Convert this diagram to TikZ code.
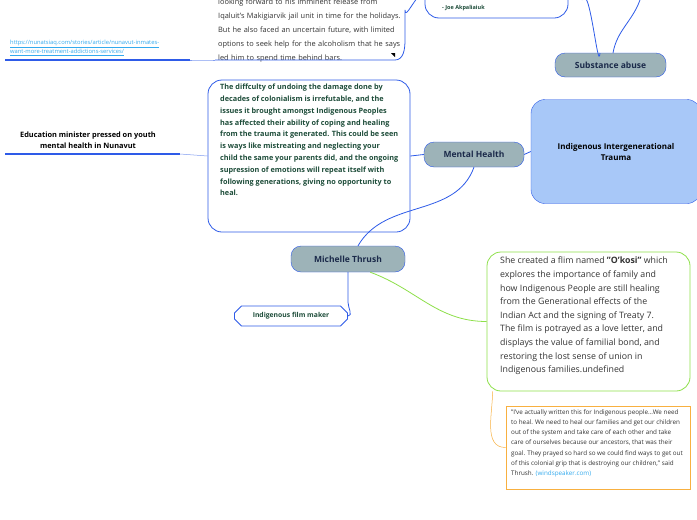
\documentclass[tikz,border=0pt]{standalone}
\usepackage{fontspec}
\usetikzlibrary{shapes.misc}
\setmainfont{Open Sans}
\definecolor{lb}{HTML}{2E5BE8}
\definecolor{gn}{HTML}{1E4D3A}
\definecolor{nodefill}{HTML}{9DB3B8}
\definecolor{navy}{HTML}{1B2A4A}
\definecolor{lg}{HTML}{8EE04A}
\definecolor{og}{HTML}{F8B040}
\definecolor{link}{HTML}{33AAEE}
\definecolor{tfill}{HTML}{A8C8F8}
\begin{document}
\begin{tikzpicture}[x=1pt,y=-1pt,
  topic/.style={draw=lb,fill=nodefill,rounded corners=10pt,font=\bfseries\fontsize{8.5}{11}\selectfont,text=navy,inner sep=0},
  con/.style={lb,line width=0.8pt},
  txt/.style={font=\fontsize{7.4}{14}\selectfont,text=black!80,align=left,anchor=north west,inner sep=0}]
\useasboundingbox (0,0) rectangle (697,520);
\fill[white] (0,0) rectangle (697,520);
% top text
\begin{scope}
\clip (0,0) rectangle (697,520);
\node[txt,text width=185] (toptxt) at (218,-1) {looking forward to his imminent release from Iqaluit's Makigiarvik jail unit in time for the holidays. But he also faced an uncertain future, with limited options to seek help for the alcoholism that he says led him to spend time behind bars.};
\end{scope}
\fill (391,53) -- (395,53) -- (395,57) -- cycle;
\node[anchor=west,font=\fontsize{5.8}{9}\selectfont,text=link,align=left,inner sep=0] (url) at (10,48) {\underline{https://nunatsiaq.com/stories/article/nunavut-inmates-}\\\underline{want-more-treatment-addictions-services/}};
\coordinate (u1) at (5,60); \coordinate (u2) at (190,60);
\draw[lb,line width=1.3pt] (u1) -- (u2);
\draw[lb,line width=0.8pt] (215,60) -- (395,60) to[out=0,in=-90] (405,40) -- (405,10) to[out=-90,in=210] (425,-10);
\draw[lb!60,line width=0.5pt] (u2) to[out=0,in=180] (215,60);
% Joe box
\draw[lb,line width=0.8pt,rounded corners=14pt] (425,-30) rectangle (568,18);
\node[font=\bfseries\fontsize{5.5}{6}\selectfont,text=gn,anchor=west,inner sep=0] (joe) at (442,8) {- Joe Akpaliaiuk};
% substance abuse
\node[topic,minimum width=111,minimum height=24] (sub) at (610.5,65) {Substance abuse};
\draw[con] (600,53) to[out=-95,in=70] (582,0);
\draw[con] (613,53) to[out=80,in=-110] (640,0);
% trauma
\node[draw=lb,fill=tfill,rounded corners=14pt,minimum width=170,minimum height=104,font=\bfseries\fontsize{8}{11}\selectfont,align=center,text=black,inner sep=0] (trauma) at (616,151.5) {Indigenous Intergenerational\\Trauma};
% mental health
\node[topic,minimum width=100,minimum height=25] (mh) at (474,154.5) {Mental Health};
\draw[con] (mh.east) -- (trauma.west);
% mental text box
\node[draw=lb,line width=0.8pt,rounded corners=14pt,minimum width=202,minimum height=152,inner sep=0] (mbox) at (309,156) {};
\node[txt,text=gn,font=\bfseries\fontsize{7.3}{11.8}\selectfont,text width=178,align=flush left] (mtxt) at (220,84) {The diffculty of undoing the damage done by decades of colonialism is irrefutable, and the issues it brought amongst Indigenous Peoples has affected their ability of coping and healing from the trauma it generated. This could be seen is ways like mistreating and neglecting your child the same your parents did, and the ongoing supression of emotions will repeat itself with following generations, giving no opportunity to heal.};
\draw[con] (mbox.east) -- (mh.west);
% education
\node[font=\bfseries\fontsize{7.4}{11}\selectfont,align=center,text=black] (edu) at (88,140) {Education minister pressed on youth\\mental health in Nunavut};
\coordinate (e1) at (5,154); \coordinate (e2) at (180,154);
\draw[lb,line width=1.3pt] (e1) -- (e2);
\draw[lb!60,line width=0.5pt] (e2) -- (mbox.west);
% michelle
\node[topic,minimum width=114,minimum height=26] (mt) at (348,259) {Michelle Thrush};
\draw[con] (mt.north) ++(10,0) to[out=60,in=-110] (mh.south);
% film maker
\node[draw=lb,line width=0.8pt,chamfered rectangle,chamfered rectangle xsep=5pt,minimum width=113,minimum height=20,font=\bfseries\fontsize{6.8}{8}\selectfont,text=gn,inner sep=0] (fm) at (291,316) {Indigenous film maker};
\draw[con] (mt.south) -- ++(0,30) to[out=-90,in=0] (fm.east);
% green box
\node[draw=lg,line width=0.8pt,rounded corners=14pt,minimum width=203,minimum height=139,inner sep=0] (gbox) at (588.5,321.5) {};
\node[txt,font=\fontsize{8.8}{13.6}\selectfont,text width=168,align=flush left] (gtxt) at (500,257) {She created a flim named \textbf{"O'kosi"} which explores the importance of family and how Indigenous People are still healing from the Generational effects of the Indian Act and the signing of Treaty 7. The film is potrayed as a love letter, and displays the value of familial bond, and restoring the lost sense of union in Indigenous families.undefined};
\draw[lg,line width=0.8pt] (mt.south east) ++(-35,0) to[out=-20,in=180] (gbox.west);
% orange box
\node[draw=og,line width=0.8pt,minimum width=184,minimum height=83,inner sep=0] (obox) at (598,447.5) {};
\node[txt,font=\fontsize{6.3}{10.3}\selectfont,text width=172,align=flush left] (otxt) at (511,409) {"I've actually written this for Indigenous people...We need to heal. We need to heal our families and get our children out of the system and take care of each other and take care of ourselves because our ancestors, that was their goal. They prayed so hard so we could find ways to get out of this colonial grip that is destroying our children," said Thrush. \textcolor{link}{(windspeaker.com)}};
\draw[og,line width=0.5pt] (gbox.south west) ++(6,0) to[out=-90,in=180] (obox.west);
\end{tikzpicture}
\end{document}
